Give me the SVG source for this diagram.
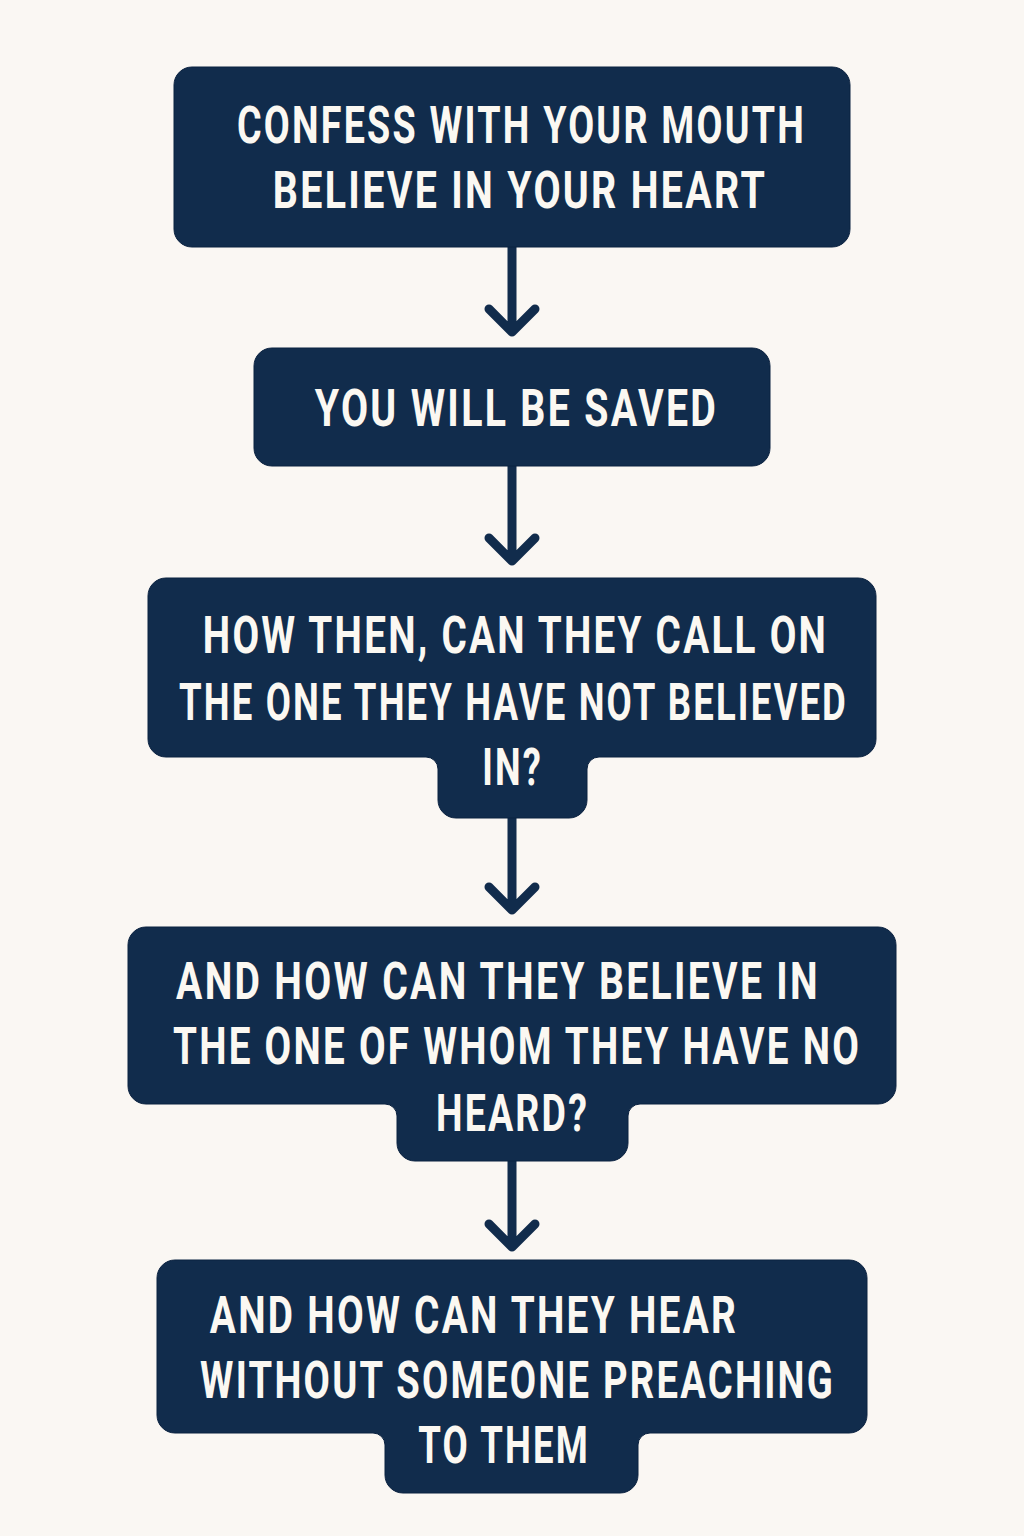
<svg xmlns="http://www.w3.org/2000/svg" width="1024" height="1536" viewBox="0 0 1024 1536">
<style>
.box{fill:#112C4C;stroke:#0B2240;stroke-width:1}
.t{font-family:Roboto,"DejaVu Sans",sans-serif;font-weight:700;font-size:51px;fill:#FBF8F2;letter-spacing:3px;text-anchor:middle}
.c{fill:none;stroke:#112C4C;stroke-width:9;stroke-linecap:round;stroke-linejoin:round}
</style>
<rect x="0" y="0" width="1024" height="1536" fill="#FAF7F3"/>
<g id="connectors">
<path class="c" d="M512 247 V330 M489 309 L512 332 L535 309"/>
<path class="c" d="M512 466 V559 M489 538 L512 561 L535 538"/>
<path class="c" d="M512 818 V908 M489 887 L512 910 L535 887"/>
<path class="c" d="M512 1161 V1245 M489 1224 L512 1247 L535 1224"/>
</g>
<g id="node1">
<rect class="box" x="174" y="67" width="676" height="180" rx="18"/>
<text class="t" transform="translate(521.5 143) scale(0.74 1)" textLength="769" lengthAdjust="spacingAndGlyphs">CONFESS WITH YOUR MOUTH</text>
<text class="t" transform="translate(520 208) scale(0.74 1)" textLength="668" lengthAdjust="spacingAndGlyphs">BELIEVE IN YOUR HEART</text>
</g>
<g id="node2">
<rect class="box" x="254" y="348" width="516" height="118" rx="18"/>
<text class="t" transform="translate(516.5 426) scale(0.74 1)" textLength="545" lengthAdjust="spacingAndGlyphs">YOU WILL BE SAVED</text>
</g>
<g id="node3">
<path class="box" d="M166 578 H858 A18 18 0 0 1 876 596 V739 A18 18 0 0 1 858 757 H599 A12 12 0 0 0 587 769 V800 A18 18 0 0 1 569 818 H456 A18 18 0 0 1 438 800 V769 A12 12 0 0 0 426 757 H166 A18 18 0 0 1 148 739 V596 A18 18 0 0 1 166 578 Z"/>
<text class="t" transform="translate(515.5 653) scale(0.74 1)" textLength="845" lengthAdjust="spacingAndGlyphs">HOW THEN, CAN THEY CALL ON</text>
<text class="t" transform="translate(513.5 720) scale(0.74 1)" textLength="904" lengthAdjust="spacingAndGlyphs">THE ONE THEY HAVE NOT BELIEVED</text>
<text class="t" transform="translate(512.5 785) scale(0.74 1)" textLength="82" lengthAdjust="spacingAndGlyphs">IN?</text>
</g>
<g id="node4">
<path class="box" d="M146 927 H878 A18 18 0 0 1 896 945 V1086 A18 18 0 0 1 878 1104 H640 A12 12 0 0 0 628 1116 V1143 A18 18 0 0 1 610 1161 H415 A18 18 0 0 1 397 1143 V1116 A12 12 0 0 0 385 1104 H146 A18 18 0 0 1 128 1086 V945 A18 18 0 0 1 146 927 Z"/>
<text class="t" transform="translate(498 999) scale(0.74 1)" textLength="870" lengthAdjust="spacingAndGlyphs">AND HOW CAN THEY BELIEVE IN</text>
<text class="t" transform="translate(517 1064) scale(0.74 1)" textLength="930" lengthAdjust="spacingAndGlyphs">THE ONE OF WHOM THEY HAVE NO</text>
<text class="t" transform="translate(512.5 1131) scale(0.74 1)" textLength="207" lengthAdjust="spacingAndGlyphs">HEARD?</text>
</g>
<g id="node5">
<path class="box" d="M175 1260 H849 A18 18 0 0 1 867 1278 V1415 A18 18 0 0 1 849 1433 H650 A12 12 0 0 0 638 1445 V1475 A18 18 0 0 1 620 1493 H403 A18 18 0 0 1 385 1475 V1445 A12 12 0 0 0 373 1433 H175 A18 18 0 0 1 157 1415 V1278 A18 18 0 0 1 175 1260 Z"/>
<text class="t" transform="translate(474 1333) scale(0.74 1)" textLength="714" lengthAdjust="spacingAndGlyphs">AND HOW CAN THEY HEAR</text>
<text class="t" transform="translate(517.5 1398) scale(0.74 1)" textLength="858" lengthAdjust="spacingAndGlyphs">WITHOUT SOMEONE PREACHING</text>
<text class="t" transform="translate(504 1463) scale(0.74 1)" textLength="232" lengthAdjust="spacingAndGlyphs">TO THEM</text>
</g>
</svg>
